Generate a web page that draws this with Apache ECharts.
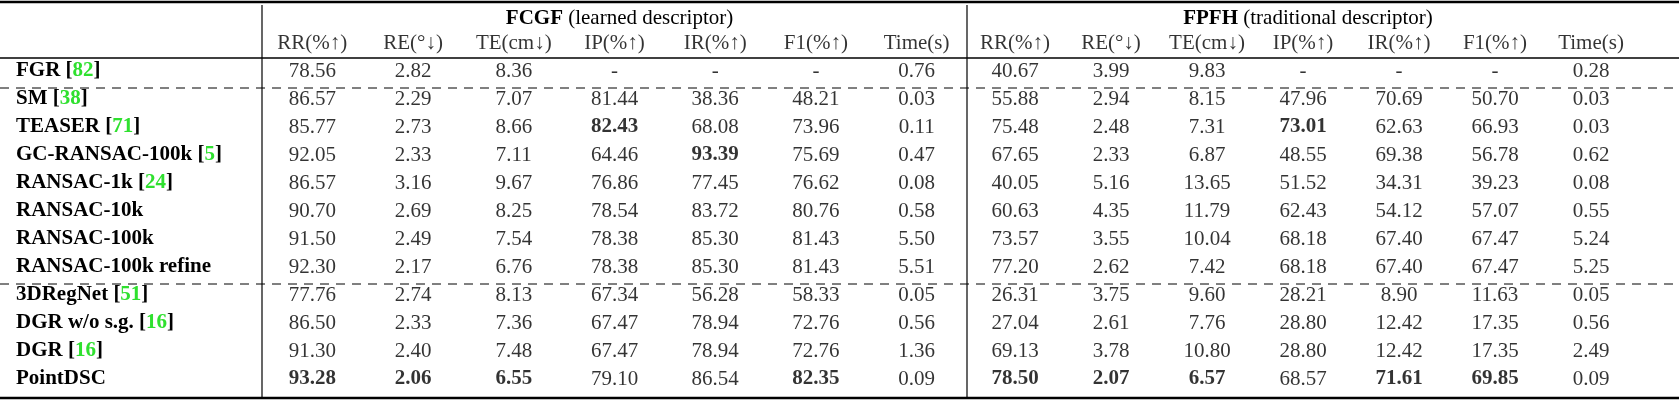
<!DOCTYPE html>
<html><head><meta charset="utf-8">
<script src="https://cdn.jsdelivr.net/npm/echarts@6/dist/echarts.min.js"></script>
<style>html,body{margin:0;padding:0;background:#fff}#c{width:1679px;height:402px}</style>
</head><body><div id="c"></div>
<script>
var methods=['FGR','SM','TEASER','GC-RANSAC-100k','RANSAC-1k','RANSAC-10k','RANSAC-100k','RANSAC-100k refine','3DRegNet','DGR w/o s.g.','DGR','PointDSC'];
var refs=['82','38','71','5','24','','','','51','16','16',''];
var colLabels=['RR(%↑)','RE(°↓)','TE(cm↓)','IP(%↑)','IR(%↑)','F1(%↑)','Time(s)'];
var fcgfRR=['78.56','86.57','85.77','92.05','86.57','90.70','91.50','92.30','77.76','86.50','91.30','93.28'];
var fcgfRE=['2.82','2.29','2.73','2.33','3.16','2.69','2.49','2.17','2.74','2.33','2.40','2.06'];
var fcgfTE=['8.36','7.07','8.66','7.11','9.67','8.25','7.54','6.76','8.13','7.36','7.48','6.55'];
var fcgfIP=['-','81.44','82.43','64.46','76.86','78.54','78.38','78.38','67.34','67.47','67.47','79.10'];
var fcgfIR=['-','38.36','68.08','93.39','77.45','83.72','85.30','85.30','56.28','78.94','78.94','86.54'];
var fcgfF1=['-','48.21','73.96','75.69','76.62','80.76','81.43','81.43','58.33','72.76','72.76','82.35'];
var fcgfTime=['0.76','0.03','0.11','0.47','0.08','0.58','5.50','5.51','0.05','0.56','1.36','0.09'];
var fpfhRR=['40.67','55.88','75.48','67.65','40.05','60.63','73.57','77.20','26.31','27.04','69.13','78.50'];
var fpfhRE=['3.99','2.94','2.48','2.33','5.16','4.35','3.55','2.62','3.75','2.61','3.78','2.07'];
var fpfhTE=['9.83','8.15','7.31','6.87','13.65','11.79','10.04','7.42','9.60','7.76','10.80','6.57'];
var fpfhIP=['-','47.96','73.01','48.55','51.52','62.43','68.18','68.18','28.21','28.80','28.80','68.57'];
var fpfhIR=['-','70.69','62.63','69.38','34.31','54.12','67.40','67.40','8.90','12.42','12.42','71.61'];
var fpfhF1=['-','50.70','66.93','56.78','39.23','57.07','67.47','67.47','11.63','17.35','17.35','69.85'];
var fpfhTime=['0.28','0.03','0.03','0.62','0.08','0.55','5.24','5.25','0.05','0.56','2.49','0.09'];
// bold cells: [column index, method index]
var fcgfBold=[[0,11],[1,11],[2,11],[5,11],[3,2],[4,3]];
var fpfhBold=[[0,11],[1,11],[2,11],[4,11],[5,11],[3,2]];

var FONT='Liberation Serif', FS=21;
var rows=['h1','h2'].concat(methods.map(function(m,i){return 'r'+i;}));
function build(cols,bold){
  var d=[];
  colLabels.forEach(function(l,c){d.push([c,1,l,0]);});
  cols.forEach(function(arr,c){arr.forEach(function(v,i){
    var b=bold.some(function(x){return x[0]===c&&x[1]===i;})?1:0;
    d.push([c,i+2,v,b]);});});
  return d;
}
var fcgf=build([fcgfRR,fcgfRE,fcgfTE,fcgfIP,fcgfIR,fcgfF1,fcgfTime],fcgfBold);
var fpfh=build([fpfhRR,fpfhRE,fpfhTE,fpfhIP,fpfhIR,fpfhF1,fpfhTime],fpfhBold);

var TOP=1,H=392,G2L=262,G2W=705,G3L=967,G3W=672;
function xa(i){return {gridIndex:i,type:'category',data:colLabels,axisLine:{show:false},axisTick:{show:false},axisLabel:{show:false},splitLine:{show:false}};}
function ya(i,lab){return {gridIndex:i,type:'category',data:rows,inverse:true,axisLine:{show:false},axisTick:{show:false},splitLine:{show:false},
  axisLabel:lab?{show:true,align:'left',margin:G2L-16,fontFamily:FONT,fontSize:FS,color:'#000',
    formatter:function(v){var k=rows.indexOf(v)-2;if(k<0)return '';var s='{n|'+methods[k]+'}';if(refs[k])s+='{n| [}{g|'+refs[k]+'}{n|]}';return s;},
    rich:{n:{fontFamily:FONT,fontSize:FS,fontWeight:'bold',color:'#000'},g:{fontFamily:FONT,fontSize:FS,fontWeight:'bold',color:'#2fe02f'}}}:{show:false}};}
function ser(i,data){return {type:'scatter',xAxisIndex:i,yAxisIndex:i,data:data,symbolSize:0,silent:true,
  label:{show:true,position:'inside',fontFamily:FONT,fontSize:FS,color:'#000',
    formatter:function(p){return p.value[3]?'{b|'+p.value[2]+'}':p.value[2];},
    rich:{b:{fontFamily:FONT,fontSize:FS,fontWeight:'bold',color:'#000'}}}};}
function hl(y,w,dash){return {type:'line',shape:{x1:0,y1:y,x2:1679,y2:y},style:{stroke:'#000',lineWidth:w,lineDash:dash||null},z:10};}
function vl(x){return {type:'line',shape:{x1:x,y1:5,x2:x,y2:397},style:{stroke:'#000',lineWidth:1.2},z:10};}
var chart=echarts.init(document.getElementById('c'),null,{renderer:'canvas'});
chart.setOption({
  animation:false,
  grid:[{left:G2L,top:TOP,width:G2W,height:H},{left:G3L,top:TOP,width:G3W,height:H}],
  xAxis:[xa(0),xa(1)],
  yAxis:[ya(0,true),ya(1,false)],
  title:[
    {text:'{b|FCGF} (learned descriptor)',left:G2L+G2W/2,top:3,textAlign:'center',textStyle:{fontFamily:FONT,fontSize:FS,fontWeight:'normal',color:'#000',rich:{b:{fontFamily:FONT,fontSize:FS,fontWeight:'bold'}}}},
    {text:'{b|FPFH} (traditional descriptor)',left:G3L+G3W/2,top:3,textAlign:'center',textStyle:{fontFamily:FONT,fontSize:FS,fontWeight:'normal',color:'#000',rich:{b:{fontFamily:FONT,fontSize:FS,fontWeight:'bold'}}}}
  ],
  series:[ser(0,fcgf),ser(1,fpfh)],
  graphic:[hl(2,2.5),hl(58,1.5),hl(88,1,[9,7]),hl(284,1,[9,7]),hl(398,2.5),vl(G2L),vl(G3L)]
});
</script></body></html>
